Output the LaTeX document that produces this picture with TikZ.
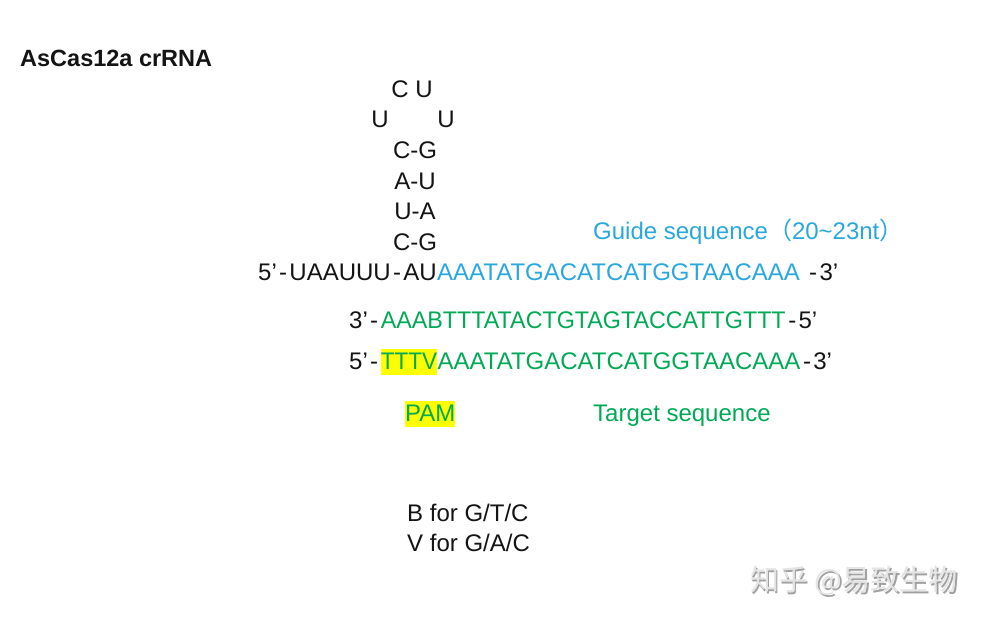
\documentclass[tikz,border=0pt]{standalone}
\usepackage{fontspec}
\setmainfont{Liberation Sans}
\newfontfamily\cjkfont{Noto Sans CJK SC}
\definecolor{guideblue}{RGB}{41,168,222}
\definecolor{targetgreen}{RGB}{0,170,85}
\definecolor{pamyellow}{RGB}{255,255,0}
\definecolor{inkblack}{RGB}{20,20,20}
\definecolor{wmlight}{RGB}{228,228,228}
\definecolor{wmshadow}{RGB}{160,160,160}
\newcommand{\wdash}{\kern2.3pt-\kern2.3pt}
\begin{document}
\begin{tikzpicture}[x=1pt,y=-1pt,
  txt/.style={inner sep=0pt, anchor=base west, text=inkblack, font=\fontsize{24}{28}\selectfont},
  ctr/.style={inner sep=0pt, anchor=base, text=inkblack, font=\fontsize{24}{28}\selectfont},
  guide/.style={txt, text=guideblue},
  target/.style={txt, text=targetgreen},
  hilite/.style={fill=pamyellow, text height=20.5pt, text depth=5pt},
  wmtext/.style={inner sep=0pt, font=\cjkfont\fontsize{29}{33}\selectfont}]
\useasboundingbox[fill=white] (0,0) rectangle (983,621);

% title
\node[txt, font=\bfseries\fontsize{23.5}{28}\selectfont] (title) at (20,66.5) {AsCas12a crRNA};

% hairpin loop and stem
\node[ctr] (loop1) at (412,97.5) {C U};
\node[ctr] (loopL) at (380,127.5) {U};
\node[ctr] (loopR) at (446,127.5) {U};
\node[ctr] (stem1) at (415,158.5) {C-G};
\node[ctr] (stem2) at (415,189.5) {A-U};
\node[ctr] (stem3) at (415,219.5) {U-A};
\node[ctr] (stem4) at (415,250.5) {C-G};

% crRNA line
\node[txt] (cr5) at (258,280.5) {5’\wdash UAAUUU\wdash AU};
\node[guide] (crguide) at (cr5.base east) {AAATATGACATCATGGTAACAAA};
\node[txt] (cr3) at (crguide.base east) {\ \wdash 3’};
\node[guide] (guidelabel) at (593,239.5) {Guide sequence{\cjkfont （}20\char"7E 23nt{\cjkfont ）}};

% target strand (3'-5')
\node[txt] (t3) at (349,328.5) {3’\wdash};
\node[target] (tseq) at (t3.base east) {\scalebox{0.97}[1]{AAABTTTATACTGTAGTACCATTGTTT}};
\node[txt] (t5) at (tseq.base east) {\wdash 5’};

% non-target strand (5'-3') with PAM
\node[txt] (n5) at (349,369.5) {5’\wdash};
\node[target, hilite] (npam) at (n5.base east) {\scalebox{0.94}[1]{TTTV}};
\node[target] (nseq) at (npam.base east) {AAATATGACATCATGGTAACAAA};
\node[txt] (n3) at (nseq.base east) {\wdash 3’};

% labels
\node[target, hilite] (pamlabel) at (405,421.5) {PAM};
\node[target] (targetlabel) at (593,421.5) {Target sequence};

% legend
\node[txt] (legB) at (407,521.5) {B for G/T/C};
\node[txt] (legV) at (407,551.5) {V for G/A/C};

% watermark
\node[wmtext, text=wmshadow] (wmshade) at (855.5,582.5) {知乎 @易致生物};
\node[wmtext, text=wmlight] (wm) at (854,581) {知乎 @易致生物};
\end{tikzpicture}
\end{document}
